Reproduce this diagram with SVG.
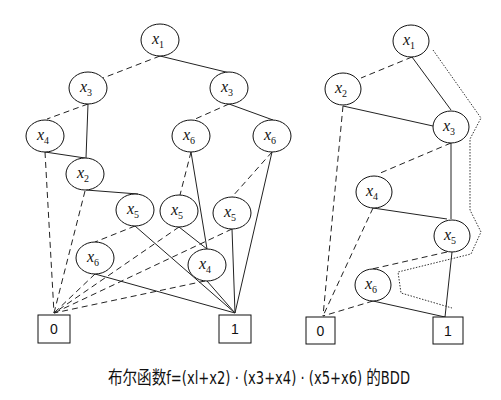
<svg xmlns="http://www.w3.org/2000/svg" width="501" height="400" viewBox="0 0 501 400">
<style>
.n{fill:#fff;stroke:#111;stroke-width:1}
.t{fill:#fff;stroke:#111;stroke-width:1}
.s{stroke:#222;stroke-width:1;fill:none}
.d{stroke:#222;stroke-width:1;fill:none;stroke-dasharray:6,4}
.o{stroke:#333;stroke-width:1;fill:none;stroke-dasharray:1.5,1.5}
.v{font-family:"Liberation Serif",serif;font-style:italic;font-size:16px;fill:#111}
.sb{font-family:"Liberation Serif",serif;font-style:normal;font-size:10px}
.tl{font-family:"Liberation Sans",sans-serif;font-size:14px;fill:#111;text-anchor:middle}
.ti{font-family:"DejaVu Sans Condensed","Noto Sans CJK SC",sans-serif;font-size:18px;fill:#111}
</style>
<rect width="501" height="400" fill="#fff"/>
<g id="connectors">
<line class="d" x1="160" y1="56" x2="103" y2="78"/>
<line class="s" x1="160" y1="56" x2="230" y2="73"/>
<line class="d" x1="88" y1="104" x2="47" y2="119"/>
<line class="s" x1="88" y1="104" x2="86" y2="158"/>
<line class="d" x1="229" y1="104" x2="193" y2="120"/>
<line class="s" x1="229" y1="104" x2="273" y2="120"/>
<line class="s" x1="45" y1="152" x2="85" y2="158"/>
<line class="d" x1="45" y1="152" x2="54" y2="313"/>
<line class="s" x1="86" y1="190" x2="138" y2="194"/>
<line class="d" x1="85" y1="191" x2="54" y2="313"/>
<line class="d" x1="191" y1="152" x2="180" y2="195"/>
<line class="s" x1="191" y1="152" x2="207" y2="249"/>
<line class="d" x1="272" y1="152" x2="232" y2="197"/>
<line class="s" x1="272" y1="152" x2="235" y2="313"/>
<line class="d" x1="135" y1="226" x2="95" y2="242"/>
<line class="s" x1="135" y1="226" x2="235" y2="313"/>
<line class="s" x1="179" y1="227" x2="207" y2="249"/>
<line class="d" x1="179" y1="227" x2="54" y2="313"/>
<line class="d" x1="232" y1="229" x2="54" y2="313"/>
<line class="s" x1="232" y1="229" x2="235" y2="313"/>
<line class="d" x1="95" y1="274" x2="54" y2="313"/>
<line class="s" x1="95" y1="274" x2="235" y2="313"/>
<line class="d" x1="205" y1="281" x2="54" y2="313"/>
<line class="s" x1="207" y1="281" x2="235" y2="313"/>
<line class="d" x1="412" y1="57" x2="361" y2="78"/>
<line class="s" x1="412" y1="57" x2="451" y2="110"/>
<line class="s" x1="343" y1="106" x2="433" y2="126"/>
<line class="d" x1="343" y1="106" x2="323" y2="316"/>
<line class="d" x1="451" y1="143" x2="378" y2="174"/>
<line class="s" x1="451" y1="143" x2="451" y2="219"/>
<line class="s" x1="373" y1="208" x2="447" y2="219"/>
<line class="d" x1="373" y1="208" x2="323" y2="316"/>
<line class="d" x1="447" y1="252" x2="372" y2="269"/>
<line class="s" x1="452" y1="252" x2="445" y2="317"/>
<line class="d" x1="373" y1="301" x2="323" y2="316"/>
<line class="s" x1="373" y1="301" x2="445" y2="317"/>
<polyline class="o" points="433,50 481,118 470,139 470,210 481,232 471,254 398,272 401,293 452,308"/>
</g>
<g id="L_x1"><ellipse class="n" cx="160" cy="40" rx="19" ry="16"/><text class="v" x="152" y="44">x<tspan class="sb" dy="4">1</tspan></text></g>
<g id="L_x3a"><ellipse class="n" cx="88" cy="88" rx="19" ry="16"/><text class="v" x="80" y="92">x<tspan class="sb" dy="4">3</tspan></text></g>
<g id="L_x3b"><ellipse class="n" cx="229" cy="88" rx="19" ry="16"/><text class="v" x="221" y="92">x<tspan class="sb" dy="4">3</tspan></text></g>
<g id="L_x4a"><ellipse class="n" cx="45" cy="136" rx="19" ry="16"/><text class="v" x="37" y="140">x<tspan class="sb" dy="4">4</tspan></text></g>
<g id="L_x6a"><ellipse class="n" cx="191" cy="136" rx="19" ry="16"/><text class="v" x="183" y="140">x<tspan class="sb" dy="4">6</tspan></text></g>
<g id="L_x6b"><ellipse class="n" cx="272" cy="136" rx="19" ry="16"/><text class="v" x="264" y="140">x<tspan class="sb" dy="4">6</tspan></text></g>
<g id="L_x2"><ellipse class="n" cx="85" cy="174" rx="19" ry="16"/><text class="v" x="77" y="178">x<tspan class="sb" dy="4">2</tspan></text></g>
<g id="L_x5a"><ellipse class="n" cx="135" cy="210" rx="19" ry="16"/><text class="v" x="127" y="214">x<tspan class="sb" dy="4">5</tspan></text></g>
<g id="L_x5b"><ellipse class="n" cx="179" cy="211" rx="19" ry="16"/><text class="v" x="171" y="215">x<tspan class="sb" dy="4">5</tspan></text></g>
<g id="L_x5c"><ellipse class="n" cx="232" cy="213" rx="19" ry="16"/><text class="v" x="224" y="217">x<tspan class="sb" dy="4">5</tspan></text></g>
<g id="L_x6c"><ellipse class="n" cx="95" cy="258" rx="19" ry="16"/><text class="v" x="87" y="262">x<tspan class="sb" dy="4">6</tspan></text></g>
<g id="L_x4b"><ellipse class="n" cx="207" cy="265" rx="19" ry="16"/><text class="v" x="199" y="269">x<tspan class="sb" dy="4">4</tspan></text></g>
<g id="L_0"><rect class="t" x="38" y="315" width="32" height="28"/><text class="tl" x="54" y="334">0</text></g>
<g id="L_1"><rect class="t" x="219" y="315" width="32" height="28"/><text class="tl" x="235" y="334">1</text></g>
<g id="R_x1"><ellipse class="n" cx="411" cy="41" rx="18" ry="16"/><text class="v" x="403" y="45">x<tspan class="sb" dy="4">1</tspan></text></g>
<g id="R_x2"><ellipse class="n" cx="343" cy="89" rx="18" ry="16"/><text class="v" x="335" y="93">x<tspan class="sb" dy="4">2</tspan></text></g>
<g id="R_x3"><ellipse class="n" cx="451" cy="127" rx="18" ry="16"/><text class="v" x="443" y="131">x<tspan class="sb" dy="4">3</tspan></text></g>
<g id="R_x4"><ellipse class="n" cx="374" cy="192" rx="18" ry="16"/><text class="v" x="366" y="196">x<tspan class="sb" dy="4">4</tspan></text></g>
<g id="R_x5"><ellipse class="n" cx="452" cy="236" rx="18" ry="16"/><text class="v" x="444" y="240">x<tspan class="sb" dy="4">5</tspan></text></g>
<g id="R_x6"><ellipse class="n" cx="373" cy="285" rx="18" ry="16"/><text class="v" x="365" y="289">x<tspan class="sb" dy="4">6</tspan></text></g>
<g id="R_0"><rect class="t" x="306" y="317" width="29" height="27"/><text class="tl" x="320.5" y="336">0</text></g>
<g id="R_1"><rect class="t" x="433" y="317" width="30" height="27"/><text class="tl" x="448" y="336">1</text></g>
<text class="ti" x="108" y="384" textLength="302" lengthAdjust="spacingAndGlyphs">布尔函数f=(xl+x2) · (x3+x4) · (x5+x6) 的BDD</text>
</svg>
